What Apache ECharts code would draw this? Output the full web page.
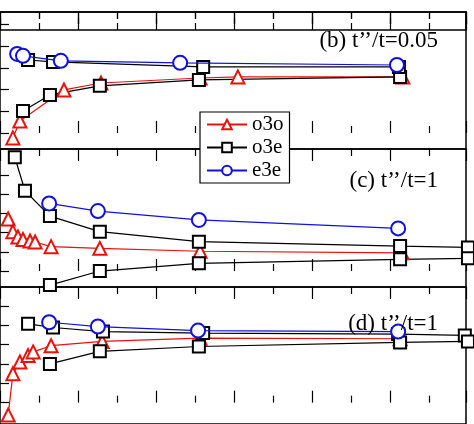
<!DOCTYPE html>
<html>
<head>
<meta charset="utf-8">
<script src="https://cdn.jsdelivr.net/npm/echarts@6/dist/echarts.min.js"></script>
<style>html,body{margin:0;padding:0;background:#fff;}</style>
</head>
<body>
<div id="chart" style="width:474px;height:424px;"></div>
<script>
// panel (b) t''/t=0.05
const bBlueX = [0.44, 0.59, 1.56, 4.62, 10.18];
const bBlueY = [3.64, 3.55, 3.32, 3.23, 3.13];
const bSqUpX = [0.72, 1.36, 5.21, 10.23];
const bSqUpY = [3.36, 3.27, 3.04, 3.04];
const bSqLoX = [0.59, 1.28, 2.56, 5.10, 10.26];
const bSqLoY = [1.01, 1.75, 2.17, 2.44, 2.58];
const bRedX = [0.33, 0.51, 1.64, 2.59, 5.13, 6.10, 10.33];
const bRedY = [-0.23, 0.55, 1.98, 2.30, 2.53, 2.58, 2.58];

// panel (c) t''/t=1
const cSqUpX = [0.38, 0.64, 1.28, 2.56, 5.10, 10.26, 12.0];
const cSqUpY = [5.92, 4.18, 2.86, 2.05, 1.53, 1.30, 1.23];
const cSqLoX = [1.28, 2.56, 5.10, 10.26, 12.0];
const cSqLoY = [-0.73, 0, 0.40, 0.61, 0.66];
const cBlueX = [1.26, 2.51, 5.10, 10.21];
const cBlueY = [3.52, 3.12, 2.66, 2.22];
const cRedX = [0.21, 0.33, 0.46, 0.59, 0.77, 0.90, 1.31, 2.56, 5.13, 10.31];
const cRedY = [2.71, 2.05, 1.77, 1.64, 1.56, 1.51, 1.27, 1.18, 1.03, 0.95];

// panel (d) t''/t=1
const dBlueX = [1.26, 2.51, 5.08, 10.21];
const dBlueY = [4.15, 3.93, 3.72, 3.67];
const dSqUpX = [0.72, 1.36, 2.64, 5.21, 10.21, 11.92];
const dSqUpY = [4.07, 3.88, 3.67, 3.59, 3.54, 3.47];
const dSqLoX = [1.28, 2.56, 5.10, 10.26, 12.0];
const dSqLoY = [2.0, 2.65, 2.90, 3.11, 3.16];
const dRedX = [0.21, 0.33, 0.51, 0.72, 0.85, 1.31, 2.62, 5.13, 10.26];
const dRedY = [-0.64, 1.49, 2.10, 2.43, 2.62, 2.94, 3.16, 3.33, 3.30];

const panelLabels = ["(b) t\u2019\u2019/t=0.05", "(c) t\u2019\u2019/t=1", "(d) t\u2019\u2019/t=1"];
const yRanges = [[0, 1], [-0.74, 5.57], [-0.83, 6.35], [-1.10, 5.97]];
const yTicks = [0, 1, 2, 3, 4, 5];

const SERIF = '"Liberation Serif", "DejaVu Serif", serif';
const zip = (xs, ys) => xs.map((x, i) => [x, ys[i]]);

const grids = [
  { top: -60, height: 72 },
  { top: 12, height: 137 },
  { top: 149, height: 138 },
  { top: 287, height: 138 },
].map((g) => ({ ...g, left: 0, right: 8, show: true, borderColor: '#000', borderWidth: 1.5, backgroundColor: 'transparent' }));

const xAxes = [];
const yAxes = [];
grids.forEach((g, i) => {
  ['bottom', 'top'].forEach((pos) => {
    xAxes.push({
      type: 'value', gridIndex: i, position: pos, min: 0, max: 11.95, interval: 2,
      axisLine: { show: false }, axisLabel: { show: false }, splitLine: { show: false },
      axisTick: { inside: true, length: 12, lineStyle: { color: '#000', width: 1.2 } },
      minorTick: { show: true, splitNumber: 2, length: 7, lineStyle: { color: '#000', width: 1.2 } },
    });
  });
  yAxes.push({
    type: 'value', gridIndex: i, min: yRanges[i][0], max: yRanges[i][1],
    axisLine: { show: false }, splitLine: { show: false },
    axisLabel: { show: false },
    axisTick: { inside: true, length: 9, customValues: i === 0 ? [] : yTicks, lineStyle: { color: '#000', width: 1.2 } },
  });
});

function line(name, xs, ys, panel, color, symbol, size) {
  return {
    name, type: 'line', data: zip(xs, ys),
    xAxisIndex: panel * 2, yAxisIndex: panel,
    symbol, symbolSize: size, showAllSymbol: true, clip: false,
    lineStyle: { color, width: 1.2 },
    itemStyle: { color, borderColor: color, borderWidth: 1.8 },
    z: symbol === 'emptyCircle' ? 3 : 2,
  };
}

const RED = '#e8120c';
const BLUE = '#1010e0';
const BLACK = '#000';
const series = [
  line('o3o', bRedX, bRedY, 1, RED, 'emptyTriangle', 13),
  line('o3e', bSqLoX, bSqLoY, 1, BLACK, 'emptyRect', 12),
  line('o3e', bSqUpX, bSqUpY, 1, BLACK, 'emptyRect', 12),
  line('e3e', bBlueX, bBlueY, 1, BLUE, 'emptyCircle', 14),
  line('o3o', cRedX, cRedY, 2, RED, 'emptyTriangle', 13),
  line('o3e', cSqUpX, cSqUpY, 2, BLACK, 'emptyRect', 12),
  line('o3e', cSqLoX, cSqLoY, 2, BLACK, 'emptyRect', 12),
  line('e3e', cBlueX, cBlueY, 2, BLUE, 'emptyCircle', 14),
  line('o3o', dRedX, dRedY, 3, RED, 'emptyTriangle', 13),
  line('o3e', dSqUpX, dSqUpY, 3, BLACK, 'emptyRect', 12),
  line('o3e', dSqLoX, dSqLoY, 3, BLACK, 'emptyRect', 12),
  line('e3e', dBlueX, dBlueY, 3, BLUE, 'emptyCircle', 14),
];

const labelTops = [29, 169, 312];
const chart = echarts.init(document.getElementById('chart'), null, { renderer: 'canvas' });
chart.setOption({
  animation: false,
  backgroundColor: '#fff',
  grid: grids,
  xAxis: xAxes,
  yAxis: yAxes,
  legend: {
    data: ['o3o', 'o3e', 'e3e'],
    orient: 'vertical', left: 200, top: 112,
    backgroundColor: '#fff', borderColor: '#000', borderWidth: 1.2,
    padding: [2, 6, 2, 6], itemGap: 2, itemWidth: 40, itemHeight: 12,
    textStyle: { fontFamily: SERIF, fontSize: 21, color: '#000' },
  },
  graphic: panelLabels.map((t, i) => ({
    type: 'text', right: 36, top: labelTops[i], z: 10,
    style: { text: t, fontFamily: SERIF, fontSize: 23, fill: '#000' },
  })),
  series,
});
</script>
</body>
</html>
